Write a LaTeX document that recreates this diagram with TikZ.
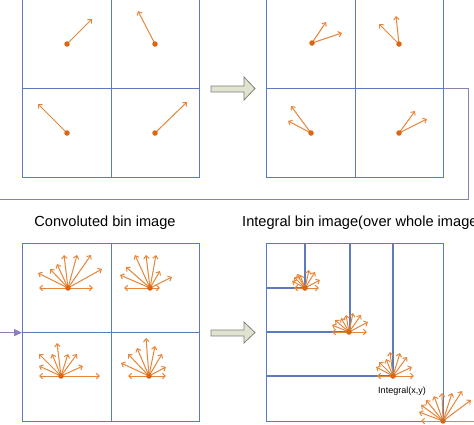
\documentclass[tikz,border=0pt]{standalone}
\usepackage{fontspec}
\setmainfont{Liberation Sans}
\usetikzlibrary{arrows.meta}
\definecolor{gridblue}{HTML}{5B7BC0}
\definecolor{vecor}{HTML}{E5863A}
\definecolor{dotor}{HTML}{DA6512}
\definecolor{linkpur}{HTML}{8E7FB0}
\definecolor{blockfill}{HTML}{DFE3CF}
\definecolor{blockline}{HTML}{7F8275}
\begin{document}
\begin{tikzpicture}[x=1pt,y=-1pt,
  gridbox/.style={draw=gridblue,line width=1.3pt,inner sep=0pt,minimum width=177pt,minimum height=178pt,anchor=north west},
  gridline/.style={draw=gridblue,line width=1.3pt},
  vec/.style={draw=vecor,line width=1pt,-{Straight Barb[length=3pt,width=5.5pt]}},
  dot/.style={circle,fill=dotor,inner sep=0pt,minimum size=5.5pt},
  blockarrow/.style={fill=blockfill,draw=blockline,line width=0.8pt,line join=miter},
  link/.style={draw=linkpur,line width=1pt},
  title/.style={font=\fontsize{14.6}{16}\selectfont,inner sep=0pt}
]
\useasboundingbox (0,0) rectangle (474,424);
\clip (0,0) rectangle (474,424);
\fill[white] (0,0) rectangle (474,424);

% grids
\node[gridbox] (g1) at (22,-1) {};
\node[gridbox] (g2) at (266,-1) {};
\node[gridbox] (g3) at (22,243) {};
\node[gridbox] (g4) at (266,243) {};
\draw[gridline] (g1.north) -- (g1.south) (g1.west) -- (g1.east);
\draw[gridline] (g2.north) -- (g2.south) (g2.west) -- (g2.east);
\draw[gridline] (g3.north) -- (g3.south) (g3.west) -- (g3.east);
\draw[gridline] (305,243) -- (305,288) -- (266,288);
\draw[gridline] (350,243) -- (350,332) -- (266,332);
\draw[gridline] (393,243) -- (393,376) -- (266,376);

% block arrows
\draw[blockarrow] (211,86) -- (244,86) -- (244,77) -- (255,88.5) -- (244,100) -- (244,92) -- (211,92) -- cycle;
\draw[blockarrow] (211,330) -- (244,330) -- (244,322) -- (255,332.5) -- (244,343) -- (244,336) -- (211,336) -- cycle;

% purple connector
\draw[link,-{Triangle[length=8pt,width=7pt]}] (g2.east) -- ++(24,0) |- (-10,199) |- (g3.west);

% titles
\node[title] (t1) at (105,223) {Convoluted bin image};
\node[title,anchor=west] (t2) at (242,223) {Integral bin image(over whole image)};
\node[font=\fontsize{9}{10}\selectfont,inner sep=0pt] (il) at (402,391) {Integral(x,y)};

% top-left vectors
\coordinate (a1) at (67,44);
\coordinate (a2) at (155,44);
\coordinate (a3) at (67,133);
\coordinate (a4) at (155,133);
\draw[vec] (a1) -- (92,19);
\draw[vec] (a2) -- (138,11);
\draw[vec] (a3) -- (38,104);
\draw[vec] (a4) -- (187,102);
% top-right vectors
\coordinate (b1) at (312,43);
\coordinate (b2) at (399,44);
\coordinate (b3) at (311,133);
\coordinate (b4) at (399,133);
\draw[vec] (b1) -- (326,22);
\draw[vec] (b1) -- (342,33);
\draw[vec] (b2) -- (396,16);
\draw[vec] (b2) -- (379,24);
\draw[vec] (b3) -- (291,106);
\draw[vec] (b3) -- (288,121);
\draw[vec] (b4) -- (415,111);
\draw[vec] (b4) -- (427,119);

% fans
\coordinate (f1) at (68,288);
\coordinate (f2) at (150,288);
\coordinate (f3) at (61,376);
\coordinate (f4) at (149,376);
\coordinate (f5) at (305,288);
\coordinate (f6) at (349,332);
\coordinate (f7) at (393,376);
\coordinate (f8) at (443,421);
\foreach \a/\b in {-29/0,25/0,-30/-15,-18/-19,-11/-24,-4/-33,9/-33,23/-33,34/-19}
  \draw[vec] (f1) -- ++(\a,\b);
\foreach \a/\b in {-26/0,10/0,-30/-13,-24/-21,-15/-33,-4/-33,6/-33,10/-17,22/-11}
  \draw[vec] (f2) -- ++(\a,\b);
\foreach \a/\b in {-22/0,39/0,-22/-10,-22/-22,-9/-22,-4/-33,7/-22,16/-22,22/-10}
  \draw[vec] (f3) -- ++(\a,\b);
\foreach \a/\b in {-21/0,17/0,-28/-13,-21/-22,-12/-28,-3/-38,6/-30,13/-22,17/-9}
  \draw[vec] (f4) -- ++(\a,\b);
\foreach \a/\b in {-11/0,14/0,-13/-7,-11/-11,-8/-14,-5/-13,4/-18,10/-16,15/-8}
  \draw[vec] (f5) -- ++(\a,\b);
\foreach \a/\b in {-17/0,18/0,-17/-7,-14/-12,-8/-14,-3/-17,4/-19,12/-17,19/-10}
  \draw[vec] (f6) -- ++(\a,\b);
\foreach \a/\b in {-16/0,21/0,-17/-9,-14/-14,-7/-17,-3/-24,7/-23,14/-19,19/-9}
  \draw[vec] (f7) -- ++(\a,\b);
\foreach \a/\b in {-22/0,40/0,-24/-9,-22/-16,-17/-21,-9/-25,-1/-28,9/-28,19/-30,28/-21}
  \draw[vec] (f8) -- ++(\a,\b);

% dots
\foreach \c in {a1,a2,a3,a4,b1,b2,b3,b4,f1,f2,f3,f4,f5,f6,f7,f8}
  \node[dot] (d\c) at (\c) {};
\end{tikzpicture}
\end{document}
